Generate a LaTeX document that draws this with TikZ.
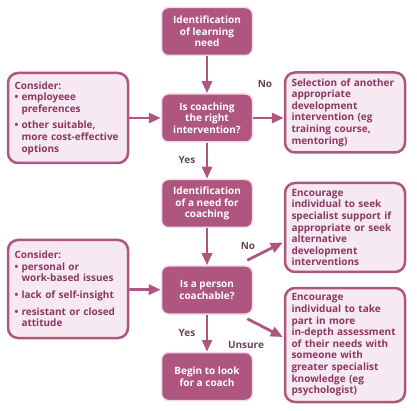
\documentclass[tikz,border=0pt]{standalone}
\usepackage{fontspec}
\setmainfont{Open Sans}
\usetikzlibrary{arrows.meta,calc}
\definecolor{cdark}{HTML}{AE5680}
\definecolor{cpale}{HTML}{F3DCE8}
\definecolor{cfill}{HTML}{F7E9F1}
\definecolor{ctext}{HTML}{8A3763}
\definecolor{clab}{HTML}{6A4259}
\newcommand{\bl}{\makebox[7pt][l]{\textbullet}}
\newcommand{\ind}{\hspace*{7pt}}
\begin{document}
\begin{tikzpicture}[x=1pt,y=-1pt,
  cbox/.style={fill=cdark,draw=cpale,line width=1.5pt,rounded corners=7pt,text=white,align=center,
    minimum width=91pt,minimum height=48pt,inner sep=0pt,font=\bfseries\fontsize{10}{11.6}\selectfont},
  lbox/.style={fill=cfill,draw=cdark,line width=2.5pt,rounded corners=10pt,text=ctext,align=left,
    minimum width=120pt,text width=107pt,inner xsep=6.5pt,inner ysep=3pt,font=\bfseries\fontsize{10}{11.6}\selectfont},
  arr/.style={draw=cdark,line width=2.8pt,-{Triangle[length=12pt,width=10pt]}},
  lab/.style={text=clab,font=\bfseries\fontsize{10}{11}\selectfont,inner sep=0pt}]
\useasboundingbox (0,0) rectangle (417,411);
\node[cbox] (c1) at (207,31.5) {Identification\\of learning\\need};
\node[cbox] (c2) at (207,118) {Is coaching\\the right\\intervention?};
\node[cbox] (c3) at (207,203.5) {Identification\\of a need for\\coaching};
\node[cbox] (c4) at (207,290) {Is a person\\coachable?};
\node[cbox] (c5) at (207,376.5) {Begin to look\\for a coach};
\node[lbox,minimum height=90pt] (l1) at (68,118) {Consider:\\\bl employeee\\\ind preferences\\[5pt]\bl other suitable,\\\ind more cost-effective\\\ind options};
\node[lbox,minimum height=98pt] (l2) at (68,289) {Consider:\\\bl personal or\\\ind work-based issues\\[5pt]\bl lack of self-insight\\[5pt]\bl resistant or closed\\\ind attitude};
\node[lbox,minimum height=80pt] (r1) at (345,112.5) {Selection of another\\appropriate\\development\\intervention (eg\\training course,\\mentoring)};
\node[lbox,minimum height=89pt] (r2) at (345,227.5) {Encourage\\individual to seek\\specialist support if\\appropriate or seek\\alternative\\development\\interventions};
\node[lbox,minimum height=114pt] (r3) at (345,345) {Encourage\\individual to take\\part in more\\in-depth assessment\\of their needs with\\someone with\\greater specialist\\knowledge (eg\\psychologist)};
\draw[arr] (c1) -- (c2);
\draw[arr] (c2) -- (c3);
\draw[arr] (c3) -- (c4);
\draw[arr] (c4) -- (c5);
\draw[arr] (l1) -- (c2);
\draw[arr] (l2) -- (c4);
\draw[arr] (c2) -- (r1.west |- c2);
\coordinate (s1) at ($(c4.north east)+(-6,-5)$);
\coordinate (s2) at ($(c4.south east)+(-6,4)$);
\draw[arr] (s1) -- ($(r2.west)+(-1,15)$);
\draw[arr] (s2) -- ($(r3.west)+(-1,-8)$);
\node[lab] (ln1) at (265,84) {No};
\node[lab] (ly1) at (187,160) {Yes};
\node[lab] (ln2) at (248,246) {No};
\node[lab] (ly2) at (187,333) {Yes};
\node[lab] (lu) at (246,345) {Unsure};
\end{tikzpicture}
\end{document}
